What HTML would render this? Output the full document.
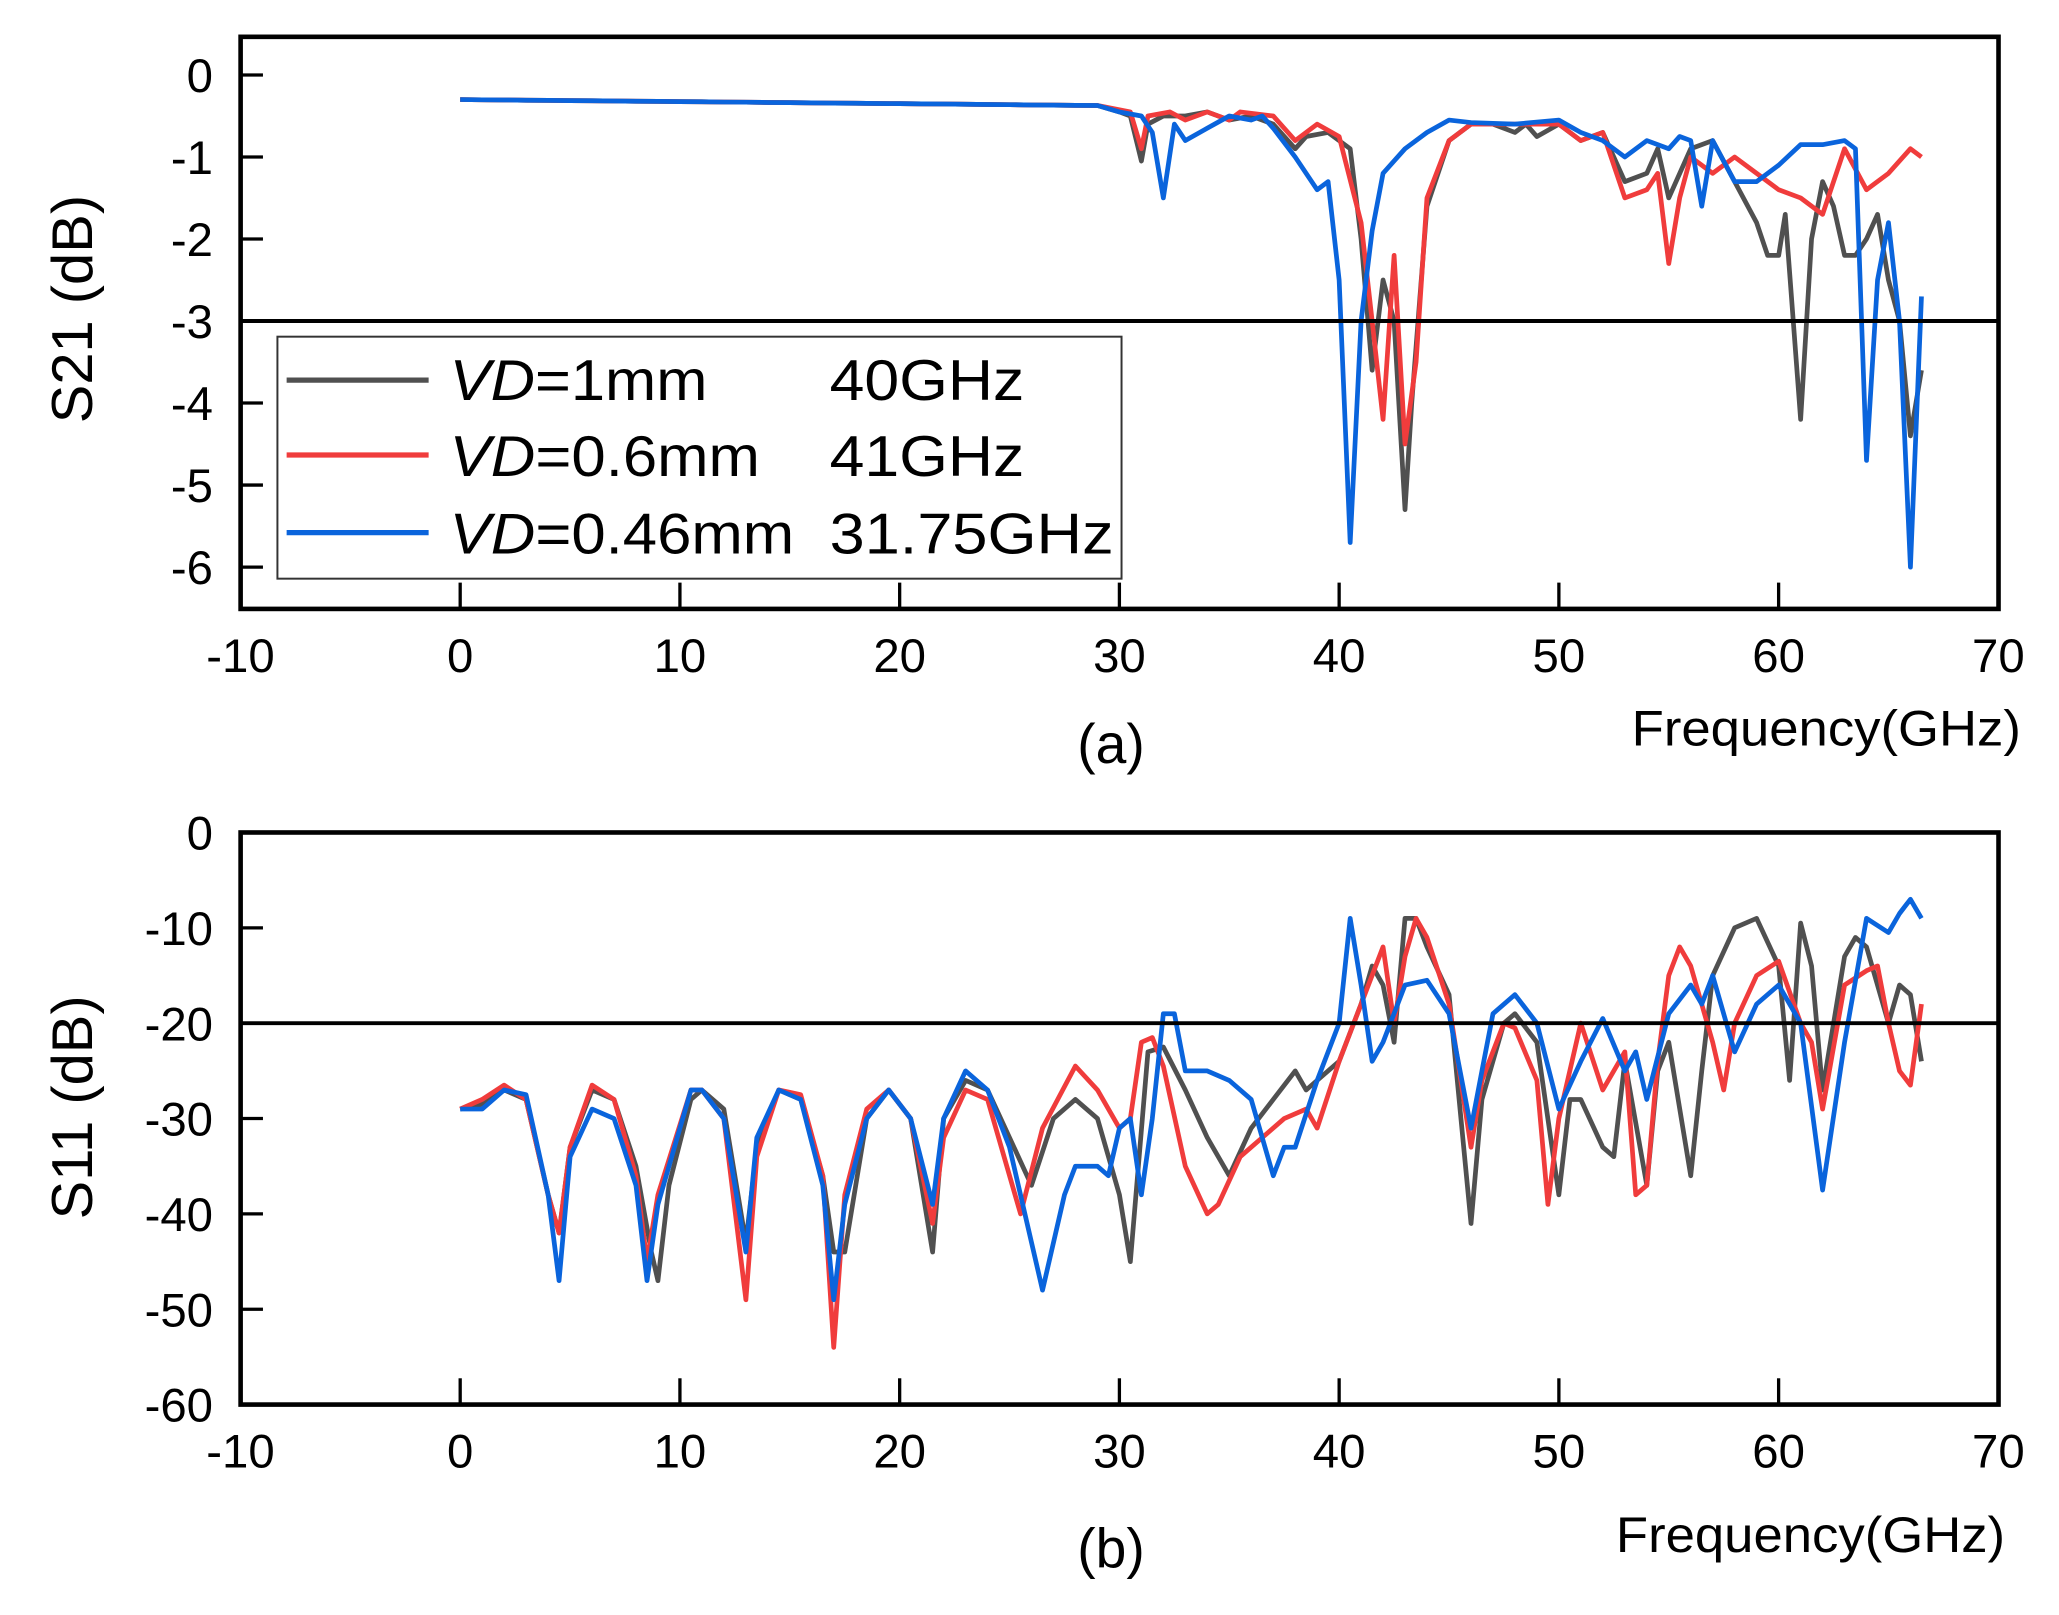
<!DOCTYPE html>
<html><head><meta charset="utf-8"><style>
html,body{margin:0;padding:0;background:#fff}
svg{display:block}
text{font-family:"Liberation Sans",sans-serif;fill:#000}
</style></head><body>
<svg id="s" width="2059" height="1615" viewBox="0 0 1566 1228" preserveAspectRatio="none" xmlns="http://www.w3.org/2000/svg">
<rect width="1566" height="1228" fill="#fff"/>
<g id="g"></g>
<rect x="211" y="256" width="642" height="184" fill="#fff" stroke="#333" stroke-width="1.5"/>
<line x1="218" y1="289" x2="326" y2="289" stroke="#505050" stroke-width="4"/>
<line x1="218" y1="346" x2="326" y2="346" stroke="#f03c3c" stroke-width="4"/>
<line x1="218" y1="405" x2="326" y2="405" stroke="#0a64dc" stroke-width="4"/>
<text x="342" y="304" font-size="44" textLength="196" lengthAdjust="spacingAndGlyphs"><tspan font-style="italic">VD</tspan>=1mm</text>
<text x="631" y="304" font-size="44" textLength="148" lengthAdjust="spacingAndGlyphs">40GHz</text>
<text x="342" y="362" font-size="44" textLength="236" lengthAdjust="spacingAndGlyphs"><tspan font-style="italic">VD</tspan>=0.6mm</text>
<text x="631" y="362" font-size="44" textLength="148" lengthAdjust="spacingAndGlyphs">41GHz</text>
<text x="342" y="421" font-size="44" textLength="262" lengthAdjust="spacingAndGlyphs"><tspan font-style="italic">VD</tspan>=0.46mm</text>
<text x="631" y="421" font-size="44" textLength="216" lengthAdjust="spacingAndGlyphs">31.75GHz</text>
<text x="845" y="580" font-size="42" text-anchor="middle">(a)</text>
<text x="1537" y="567" font-size="38" text-anchor="end" textLength="296" lengthAdjust="spacingAndGlyphs">Frequency(GHz)</text>
<text x="845" y="1192" font-size="42" text-anchor="middle">(b)</text>
<text x="1525" y="1180" font-size="38" text-anchor="end" textLength="296" lengthAdjust="spacingAndGlyphs">Frequency(GHz)</text>
<text transform="translate(70,235) rotate(-90)" font-size="44" text-anchor="middle">S21 (dB)</text>
<text transform="translate(70,842) rotate(-90)" font-size="44" text-anchor="middle">S11 (dB)</text>
</svg>
<script>
var g=document.getElementById('g'),NS='http://www.w3.org/2000/svg';
function el(t,a){var e=document.createElementNS(NS,t);for(var k in a)e.setAttribute(k,a[k]);g.appendChild(e);return e;}
function X(f){return 350+f*16.7125;}
function panel(top,bot,ymin,ymax,yticks,ref,series){
  var Y=function(v){return top+(ymax-v)/(ymax-ymin)*(bot-top);};
  series.forEach(function(s){
    var p=[];for(var i=0;i<s.d.length;i+=2)p.push(X(s.d[i]).toFixed(1)+','+Y(s.d[i+1]).toFixed(1));
    el('polyline',{points:p.join(' '),fill:'none',stroke:s.c,'stroke-width':3.6,'stroke-linejoin':'round'});
  });
  el('line',{x1:183,x2:1520,y1:Y(ref),y2:Y(ref),stroke:'#000','stroke-width':3});
  el('rect',{x:183,y:top,width:1337,height:bot-top,fill:'none',stroke:'#000','stroke-width':3.5});
  for(var f=0;f<=60;f+=10){el('line',{x1:X(f),x2:X(f),y1:bot,y2:bot-20,stroke:'#000','stroke-width':2.5});}
  for(var f=-10;f<=70;f+=10){var t=el('text',{x:X(f),y:bot+48,'font-size':36,'text-anchor':'middle'});t.textContent=f;}
  yticks.forEach(function(v){el('line',{x1:183,x2:200,y1:Y(v),y2:Y(v),stroke:'#000','stroke-width':2.5});
    var t=el('text',{x:162,y:Y(v)+13,'font-size':36,'text-anchor':'end'});t.textContent=v;});
}
function flat(){var a=[];for(var f=0;f<=29;f+=1){a.push(f,-0.3-f*0.0025);}return a;}
var b1=flat().concat([30,-0.45,30.5,-0.5,31,-1.05,31.3,-0.6,32,-0.5,33,-0.5,34,-0.45,35,-0.55,36,-0.5,37,-0.6,38,-0.9,38.5,-0.75,39.5,-0.7,40.5,-0.9,41,-2,41.5,-3.6,42,-2.5,42.5,-3,43,-5.3,43.3,-4,44,-1.6,45,-0.8,46,-0.6,47,-0.6,48,-0.7,48.5,-0.6,49,-0.75,50,-0.6,51,-0.8,52,-0.7,53,-1.3,54,-1.2,54.5,-0.9,55,-1.5,56,-0.9,57,-0.8,58,-1.3,59,-1.8,59.5,-2.2,60,-2.2,60.3,-1.7,61,-4.2,61.5,-2.0,62,-1.3,62.5,-1.6,63,-2.2,63.5,-2.2,64,-2,64.5,-1.7,65,-2.5,65.5,-3,66,-4.4,66.5,-3.6]);
var r1=flat().concat([30.5,-0.45,31,-0.9,31.3,-0.5,32.3,-0.45,33,-0.55,34,-0.45,35,-0.55,35.5,-0.45,37,-0.5,38,-0.8,39,-0.6,40,-0.75,41,-1.8,41.5,-3,42,-4.2,42.5,-2.2,43,-4.5,43.5,-3.5,44,-1.5,45,-0.8,46,-0.6,50,-0.6,51,-0.8,52,-0.7,53,-1.5,54,-1.4,54.5,-1.2,55,-2.3,55.5,-1.5,56,-1.0,57,-1.2,58,-1.0,59,-1.2,60,-1.4,61,-1.5,62,-1.7,63,-0.9,64,-1.4,65,-1.2,66,-0.9,66.5,-1.0]);
var u1=flat().concat([30,-0.45,31,-0.5,31.5,-0.7,32,-1.5,32.5,-0.6,33,-0.8,34,-0.65,35,-0.5,36,-0.55,36.5,-0.5,37,-0.65,38,-1.0,39,-1.4,39.5,-1.3,40,-2.5,40.5,-5.7,41,-3,41.5,-1.9,42,-1.2,43,-0.9,44,-0.7,45,-0.55,46,-0.58,48,-0.6,50,-0.55,51,-0.7,52,-0.8,53,-1.0,54,-0.8,55,-0.9,55.5,-0.75,56,-0.8,56.5,-1.6,57,-0.8,58,-1.3,59,-1.3,60,-1.1,61,-0.85,62,-0.85,63,-0.8,63.5,-0.9,64,-4.7,64.5,-2.5,65,-1.8,65.5,-3,66,-6,66.5,-2.7]);
panel(28,463,-6.51,0.465,[0,-1,-2,-3,-4,-5,-6],-3,[{c:'#505050',d:b1},{c:'#f03c3c',d:r1},{c:'#0a64dc',d:u1}]);
var b2=[0,-29,1,-28.5,2,-27,3,-28,4,-38,4.5,-42,5,-33,6,-27,7,-28,8,-35,8.7,-44,9,-47,9.5,-37,10.5,-28,11,-27,12,-29,13,-43,13.5,-33,14.5,-27,15.5,-28,16.5,-36,17,-44,17.5,-44,18.5,-30,19.5,-27,20.5,-30,21.5,-44,22,-30,23,-26,24,-27,25,-32,26,-37,27,-30,28,-28,29,-30,30,-38,30.5,-45,31.3,-23,32,-22.5,33,-27,34,-32,35,-36,36,-31,37,-28,38,-25,38.5,-27,39,-26,40,-24,41,-18,41.5,-14,42,-16,42.5,-22,43,-9,43.5,-9,44,-12,45,-17,46,-41,46.5,-28,47.5,-20,48,-19,49,-22,50,-38,50.5,-28,51,-28,52,-33,52.5,-34,53,-24,54,-37,54.5,-25,55,-22,56,-36,56.5,-25,57,-15,58,-10,59,-9,60,-14,60.5,-26,61,-9.5,61.5,-14,62,-27,63,-13,63.5,-11,64,-12,65,-20,65.5,-16,66,-17,66.5,-24];
var r2=[0,-29,1,-28,2,-26.5,3,-28,4,-38,4.5,-42,5,-33,6,-26.5,7,-28,8,-36,8.5,-45,9,-38,10.5,-27,11,-27,12,-30,13,-49,13.5,-34,14.5,-27,15.5,-27.5,16.5,-36,17,-54,17.5,-38,18.5,-29,19.5,-27,20.5,-30,21.5,-41,22,-32,23,-27,24,-28,25.5,-40,26.5,-31,28,-24.5,29,-27,30,-31,30.5,-30,31,-22,31.5,-21.5,32,-24.5,33,-35,34,-40,34.5,-39,35.5,-34,36.5,-32,37.5,-30,38.5,-29,39,-31,40,-24,41,-18,42,-12,42.5,-20,43,-13,43.5,-9,44,-11,45,-18,46,-33,46.5,-26,47.5,-20,48,-20.5,49,-26,49.5,-39,50,-30,51,-20,52,-27,53,-23,53.5,-38,54,-37,54.5,-24,55,-15,55.5,-12,56,-14,57,-22,57.5,-27,58,-20,59,-15,60,-13.5,61,-20,61.5,-22,62,-29,63,-16,64,-14.5,64.5,-14,65,-20,65.5,-25,66,-26.5,66.5,-18];
var u2=[0,-29,1,-29,2,-27,3,-27.5,4,-38,4.5,-47,5,-34,6,-29,7,-30,8,-37,8.5,-47,9,-39,10.5,-27,11,-27,12,-30,13,-44,13.5,-32,14.5,-27,15.5,-28,16.5,-37,17,-49,17.5,-39,18.5,-30,19.5,-27,20.5,-30,21.5,-39,22,-30,23,-25,24,-27,25,-33,26.5,-48,27.5,-38,28,-35,29,-35,29.5,-36,30,-31,30.5,-30,31,-38,31.5,-30,32,-19,32.5,-19,33,-25,34,-25,35,-26,36,-28,37,-36,37.5,-33,38,-33,39,-26,40,-20,40.5,-9,41,-16,41.5,-24,42,-22,43,-16,44,-15.5,45,-19,46,-31,46.5,-25,47,-19,48,-17,49,-20,50,-29,51,-24,52,-19.5,53,-25,53.5,-23,54,-28,55,-19,56,-16,56.5,-18,57,-15,58,-23,59,-18,60,-16,61,-20,62,-37.5,63,-22,64,-9,65,-10.5,65.5,-8.5,66,-7,66.5,-9];
panel(633,1068,-60,0,[0,-10,-20,-30,-40,-50,-60],-20,[{c:'#505050',d:b2},{c:'#f03c3c',d:r2},{c:'#0a64dc',d:u2}]);
</script>
</body></html>
